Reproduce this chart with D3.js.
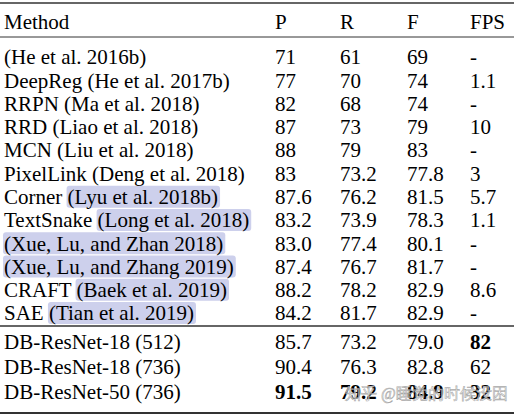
<!DOCTYPE html>
<html><head><meta charset="utf-8">
<script src="https://cdn.jsdelivr.net/npm/d3@7"></script>
<style>body{margin:0;background:#fff}text{font-family:"Liberation Serif","Times New Roman",serif;white-space:pre}</style>
</head><body><div id="tbl"></div>
<script>
const headers = ["Method", "P", "R", "F", "FPS"];
const methods = ["(He et al. 2016b)", "DeepReg (He et al. 2017b)", "RRPN (Ma et al. 2018)", "RRD (Liao et al. 2018)",
  "MCN (Liu et al. 2018)", "PixelLink (Deng et al. 2018)", "Corner (Lyu et al. 2018b)", "TextSnake (Long et al. 2018)",
  "(Xue, Lu, and Zhan 2018)", "(Xue, Lu, and Zhang 2019)", "CRAFT (Baek et al. 2019)", "SAE (Tian et al. 2019)"];
const pVals = ["71", "77", "82", "87", "88", "83", "87.6", "83.2", "83.0", "87.4", "88.2", "84.2"];
const rVals = ["61", "70", "68", "73", "79", "73.2", "76.2", "73.9", "77.4", "76.7", "78.2", "81.7"];
const fVals = ["69", "74", "74", "79", "83", "77.8", "81.5", "78.3", "80.1", "81.7", "82.9", "82.9"];
const fpsVals = ["-", "1.1", "-", "10", "-", "3", "5.7", "1.1", "-", "-", "8.6", "-"];
// highlighted citation part (prefix, highlighted)
const hlSplit = [null, null, null, null, null, null, ["Corner ", "(Lyu et al. 2018b)"], ["TextSnake ", "(Long et al. 2018)"],
  ["", "(Xue, Lu, and Zhan 2018)"], ["", "(Xue, Lu, and Zhang 2019)"], ["CRAFT ", "(Baek et al. 2019)"], ["SAE ", "(Tian et al. 2019)"]];
const dbMethods = ["DB-ResNet-18 (512)", "DB-ResNet-18 (736)", "DB-ResNet-50 (736)"];
const dbP = ["85.7", "90.4", "91.5"];
const dbR = ["73.2", "76.3", "79.2"];
const dbF = ["79.0", "82.8", "84.9"];
const dbFps = ["82", "62", "32"];
const dbBold = [[false, false, false, true], [false, false, false, false], [true, true, true, true]];

const W = 514, H = 418;
const svg = d3.select("#tbl").append("svg").attr("width", W).attr("height", H);
const colX = d3.scaleOrdinal().domain(headers).range([4, 275, 340, 407, 470]);
const y1 = d3.scaleLinear().domain([0, 11]).range([57, 313]);
const y2 = d3.scaleLinear().domain([0, 2]).range([342, 392]);
const fs = 21;

function rule(y, w) {
  svg.append("line").attr("x1", 0).attr("x2", W).attr("y1", y).attr("y2", y)
    .attr("stroke", "#333").attr("stroke-width", w);
}
rule(3, 1.6); rule(37, 1); rule(326, 1.6); rule(413, 2);

svg.selectAll("text.h").data(headers).join("text").attr("class", "h")
  .attr("x", d => colX(d)).attr("y", 22).attr("dy", "0.35em").attr("font-size", fs).text(d => d);

const rows = methods.map((m, i) => ({ m, vals: [pVals[i], rVals[i], fVals[i], fpsVals[i]], i }));
rows.forEach(r => {
  const y = y1(r.i);
  const hl = hlSplit[r.i];
  if (hl) {
    const pre = svg.append("text").attr("x", colX("Method")).attr("y", y).attr("dy", "0.35em").attr("font-size", fs).text(hl[0]);
    const px = colX("Method") + (hl[0] ? pre.node().getComputedTextLength() : 0);
    const t = svg.append("text").attr("x", px).attr("y", y).attr("dy", "0.35em").attr("font-size", fs).text(hl[1]);
    const w = t.node().getComputedTextLength();
    svg.insert("rect", "text").attr("x", px - 1).attr("y", y - 11).attr("width", w + 3).attr("height", 22)
      .attr("rx", 3).attr("fill", "#cdd0ec");
  } else {
    svg.append("text").attr("x", colX("Method")).attr("y", y).attr("dy", "0.35em").attr("font-size", fs).text(r.m);
  }
  r.vals.forEach((v, j) => svg.append("text").attr("x", colX(headers[j + 1])).attr("y", y).attr("dy", "0.35em")
    .attr("font-size", fs).text(v));
});

dbMethods.forEach((m, i) => {
  const y = y2(i);
  svg.append("text").attr("x", colX("Method")).attr("y", y).attr("dy", "0.35em").attr("font-size", fs).text(m);
  [dbP[i], dbR[i], dbF[i], dbFps[i]].forEach((v, j) => svg.append("text").attr("x", colX(headers[j + 1])).attr("y", y)
    .attr("dy", "0.35em").attr("font-size", fs).attr("font-weight", dbBold[i][j] ? "bold" : "normal").text(v));
});

// watermark
svg.append("text").attr("x", 345).attr("y", 393).attr("dy", "0.35em").attr("font-size", 16)
  .attr("font-family", "Noto Sans CJK SC").attr("fill", "#fff").attr("stroke", "#999").attr("stroke-width", 0.6)
  .attr("opacity", 0.85).text("知乎 @睡觉的时候没困");
</script></body></html>
